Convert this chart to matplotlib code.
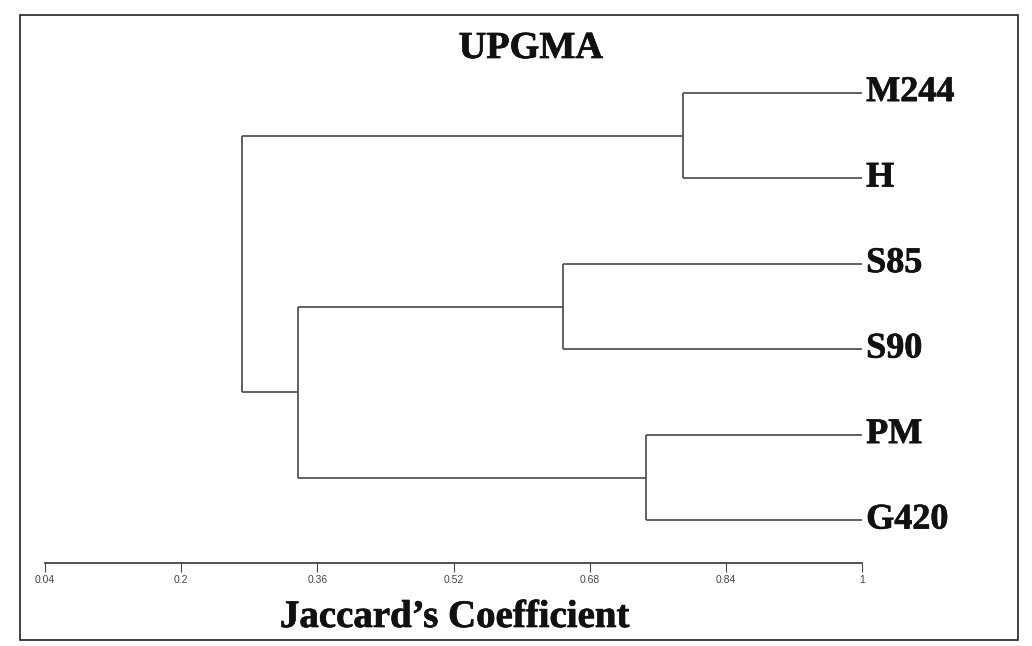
import matplotlib
matplotlib.use("Agg")
import matplotlib.pyplot as plt
from matplotlib.patches import Rectangle
import matplotlib.patheffects as pe

# leaves, top to bottom
leaves = ["M244", "H", "S85", "S90", "PM", "G420"]
# merges: (left child, right child, similarity); children are leaf index or "n<k>"
merges = [
    (4, 5, 0.746),      # PM + G420
    (2, 3, 0.649),      # S85 + S90
    (0, 1, 0.790),      # M244 + H
    ("n1", "n0", 0.337),
    ("n2", "n3", 0.272),
]
tick_vals = [0.04, 0.2, 0.36, 0.52, 0.68, 0.84, 1]
tick_labels = ["0.04", "0.2", "0.36", "0.52", "0.68", "0.84", "1"]

W, H = 1032, 646
fig = plt.figure(figsize=(W / 100, H / 100), dpi=100)
fig.patch.set_facecolor("white")

# outer frame
fig.add_artist(Rectangle((20 / W, 1 - 640 / H), (1018 - 20) / W, (640 - 15) / H,
                         transform=fig.transFigure, fill=False, ec="#222222", lw=1.2))

# axes: x 0.04 -> px 45, 1 -> px 862; leaf rows 92.7 .. 520, axis at 563
ax = fig.add_axes([45 / W, 1 - 563 / H, (862 - 45) / W, (563 - 50) / H])
ax.set_xlim(0.04, 1)
ax.set_ylim(5.5, -0.5)

line_kw = dict(color="#555555", lw=1.3, solid_capstyle="butt")
pos = {}
for i in range(len(leaves)):
    pos[i] = (1.0, i)

for k, (a, b, s) in enumerate(merges):
    xa, ya = pos[a]
    xb, yb = pos[b]
    ax.plot([xa, s], [ya, ya], **line_kw)
    ax.plot([xb, s], [yb, yb], **line_kw)
    ax.plot([s, s], [ya, yb], **line_kw)
    pos["n%d" % k] = (s, (ya + yb) / 2)

# slightly heavier serif bold
bold_fx = [pe.withStroke(linewidth=0.5, foreground="#111111")]
serif = dict(fontweight="bold", family="Liberation Serif", color="#111111",
             path_effects=bold_fx)

for i, name in enumerate(leaves):
    ax.annotate(name, (1.0, i), xytext=(3, -6), textcoords="offset points",
                ha="left", va="baseline", fontsize=26, annotation_clip=False, **serif)

for sp in ["top", "right", "left"]:
    ax.spines[sp].set_visible(False)
ax.spines["bottom"].set_color("#333333")
ax.spines["bottom"].set_linewidth(1.2)
ax.set_yticks([])
ax.set_xticks(tick_vals)
ax.set_xticklabels(tick_labels, family=["Liberation Sans Narrow", "Liberation Sans"],
                   fontsize=7.5, color="#444444")
ax.tick_params(axis="x", direction="out", length=6.5, width=0.8, color="#444444", pad=2)

fig.text(531 / W, 1 - 58 / H, "UPGMA", ha="center", va="baseline", fontsize=27.5, **serif)
fig.text(455 / W, 1 - 627 / H, "Jaccard\u2019s Coefficient", ha="center", va="baseline",
         fontsize=28, **serif)

fig.savefig("out.png", dpi=100)
